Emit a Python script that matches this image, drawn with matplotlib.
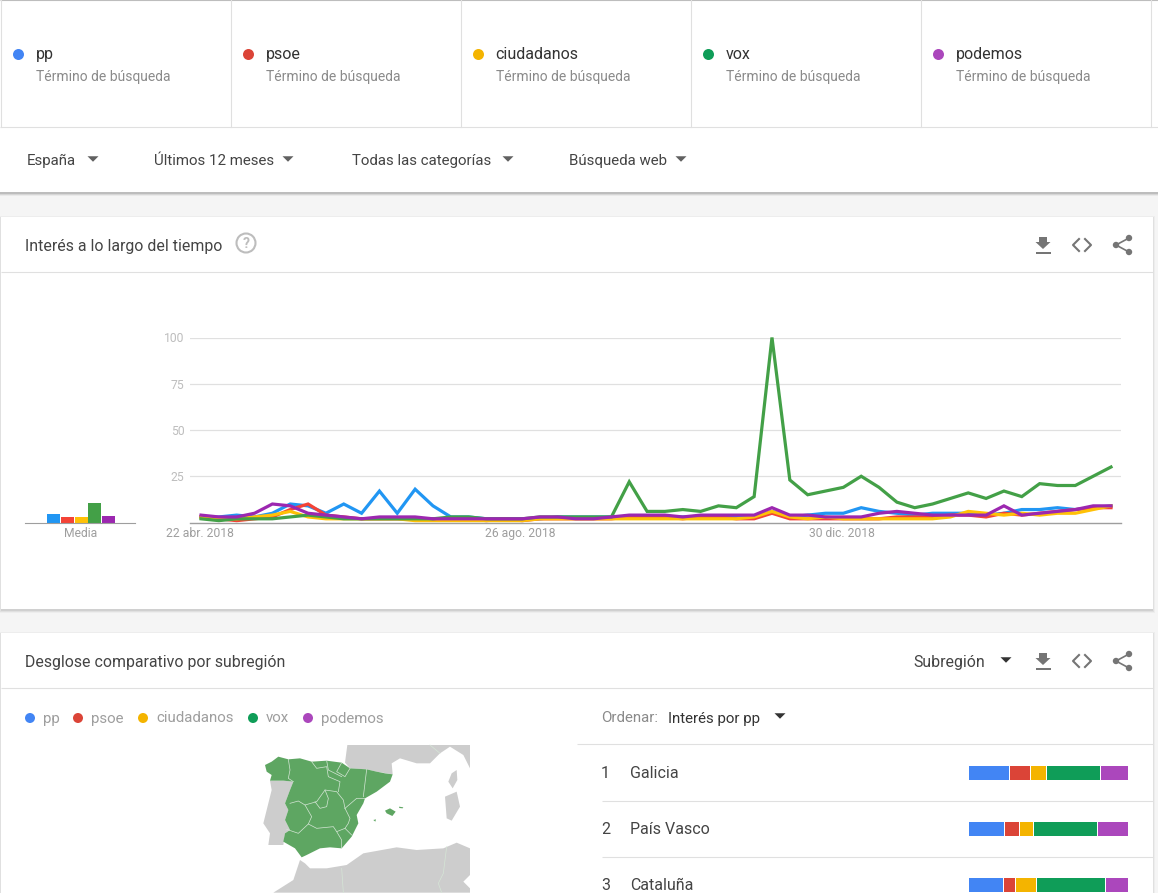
import matplotlib
matplotlib.use('Agg')
import matplotlib.pyplot as plt
from matplotlib.patches import Rectangle, Polygon, Circle
from matplotlib.transforms import ScaledTranslation

plt.rcParams['font.family'] = ['Roboto', 'DejaVu Sans']

W, H = 1158, 893

# data
terms = ['pp', 'psoe', 'ciudadanos', 'vox', 'podemos']
dots = ['#4285f4', '#db4437', '#f4b400', '#0f9d58', '#ab47bc']
lines = ['#2196f3', '#f44336', '#ffc107', '#43a047', '#9c27b0']

pp = [3, 3, 4, 3, 5, 10, 9, 5, 10, 5, 17, 5, 18, 9, 3, 3, 2, 2, 2, 2, 3, 3, 3, 3,
      3, 3, 3, 3, 3, 3, 3, 3, 6, 3, 4, 5, 5, 8, 6, 5, 4, 5, 5, 5, 4, 5, 7, 7, 8, 7, 8, 9]
psoe = [3, 2, 1, 2, 3, 7, 10, 4, 3, 2, 2, 2, 2, 2, 2, 2, 1, 2, 1, 2, 2, 2, 2, 2,
        3, 3, 3, 2, 3, 3, 2, 2, 5, 2, 2, 2, 2, 2, 2, 3, 3, 3, 4, 4, 3, 5, 4, 5, 6, 7, 8, 8]
ciudadanos = [3, 2, 2, 3, 4, 6, 3, 2, 2, 2, 2, 2, 1, 1, 1, 1, 1, 1, 1, 2, 2, 2, 2, 2,
              2, 2, 2, 2, 2, 2, 2, 3, 6, 3, 2, 3, 2, 2, 2, 2, 2, 2, 3, 6, 5, 4, 5, 4, 5, 5, 7, 9]
vox = [2, 1, 2, 2, 2, 3, 4, 3, 2, 2, 2, 2, 2, 2, 3, 3, 2, 2, 2, 3, 3, 3, 3, 3,
       22, 6, 6, 7, 6, 9, 8, 14, 100, 23, 15, 17, 19, 25, 19, 11, 8, 10, 13, 16, 13, 17, 14, 21, 20, 20, 25, 30]
podemos = [4, 3, 3, 5, 10, 9, 5, 4, 3, 2, 3, 3, 3, 2, 2, 2, 2, 2, 2, 3, 3, 2, 2, 3,
           4, 4, 4, 3, 4, 4, 4, 4, 8, 4, 4, 3, 3, 3, 5, 6, 5, 4, 4, 4, 4, 9, 4, 5, 6, 7, 9, 9]
series = [pp, psoe, ciudadanos, vox, podemos]

media = [4.5, 3, 3, 10.4, 3.4]
yticks = [25, 50, 75, 100]
date_ticks = [0, 18, 36]
date_labels = ['22 abr. 2018', '26 ago. 2018', '30 dic. 2018']

region_names = ['Galicia', 'País Vasco', 'Cataluña']
region_vals = [[41, 21, 16, 54, 28],
               [36, 15, 14, 64, 31],
               [35, 12, 21, 69, 23]]


def px_axes(x0, y_top, x1, y_bot, **kw):
    return fig.add_axes([x0 / W, 1 - y_bot / H, (x1 - x0) / W, (y_bot - y_top) / H], **kw)


fig = plt.figure(figsize=(W / 100, H / 100), dpi=100, facecolor='#f5f5f5')

# page furniture, in pixel coordinates
ui = fig.add_axes([0, 0, 1, 1], zorder=0)
ui.set_xlim(0, W)
ui.set_ylim(H, 0)
ui.axis('off')


def box(x, y, w, h, c='white', z=1, **kw):
    ui.add_patch(Rectangle((x, y), w, h, fc=c, ec='none', zorder=z, **kw))


def hline(x0, x1, y, c='#e0e0e0', lw=0.8, z=3):
    ui.plot([x0, x1], [y - 0.8, y - 0.8], color=c, lw=lw, zorder=z, solid_capstyle='butt')


def txt(x, y, s, size=14, c='#444444', ha='left', **kw):
    ui.text(x, y + 1, s, fontsize=size * 0.72, color=c, ha=ha, va='center', zorder=6, **kw)


def tri(x, y, c='#616161', w=5.5, h=5.5):
    ui.add_patch(Polygon([(x - w, y - h / 2), (x + w, y - h / 2), (x, y + h / 2)], fc=c, ec='none', zorder=6))


def card_shadow(x, y, w, h, strength=1.0):
    for i, a in zip((3, 2, 1), (0.03, 0.05, 0.07)):
        box(x - i + 1, y - i + 2, w + 2 * i - 2, h + 2 * i - 1, c='black', z=0.5, alpha=a * strength)


def icons(x_dl, x_code, x_share, y):
    c = '#757575'
    ui.add_patch(Polygon([(x_dl - 4, y - 8), (x_dl + 4, y - 8), (x_dl + 4, y - 3), (x_dl + 7.5, y - 3),
                          (x_dl, y + 4), (x_dl - 7.5, y - 3), (x_dl - 4, y - 3)], fc=c, ec='none', zorder=6))
    ui.add_patch(Rectangle((x_dl - 7.5, y + 6.5), 15, 2, fc=c, ec='none', zorder=6))
    ui.plot([x_code - 3, x_code - 9, x_code - 3], [y - 6, y, y + 6], color=c, lw=1.5, zorder=6)
    ui.plot([x_code + 3, x_code + 9, x_code + 3], [y - 6, y, y + 6], color=c, lw=1.5, zorder=6)
    ui.plot([x_share + 7, x_share - 6, x_share + 7], [y - 7, y, y + 7], color=c, lw=1.2, zorder=6)
    for px, py in [(x_share + 7, y - 7), (x_share - 6, y), (x_share + 7, y + 7)]:
        ui.add_patch(Circle((px, py), 3.2, fc=c, ec='none', zorder=6))


# header
card_shadow(0, -5, W, 197, strength=1.6)
box(0, 0, W, 192)
hline(0, W, 1, c='#bdbdbd')
hline(0, W, 127.5)
cell_x = [1, 231, 461, 691, 921, 1151]
for x in cell_x:
    ui.plot([x - 0.3, x - 0.3], [0, 127], color='#e0e0e0', lw=0.8, zorder=3)
for x, term, dot in zip(cell_x, terms, dots):
    ui.add_patch(Circle((x + 17.5, 54.5), 5.5, fc=dot, ec='none', zorder=6))
    txt(x + 34.5, 53.5, term, size=16, c='#333333')
    txt(x + 35, 75.5, 'Término de búsqueda', size=13.9, c='#8a8a8a')

for x, s, tx, y in [(27, 'España', 93, 159.5), (154, 'Últimos 12 meses', 288, 160),
                    (352, 'Todas las categorías', 508, 159.5), (569, 'Búsqueda web', 681, 159.5)]:
    txt(x, y, s, size=15)
    tri(tx, 159)

# first card
card_shadow(1, 217, 1152, 392)
box(1, 217, 1152, 392)
hline(1, 1153, 272.5)
txt(25, 245, 'Interés a lo largo del tiempo', size=15.9)
ui.add_patch(Circle((246, 243), 9.5, fc='none', ec='#bdbdbd', lw=1.5, zorder=6))
txt(246, 242.5, '?', size=14, c='#bdbdbd', ha='center', fontweight='bold')
icons(1043, 1082, 1122, 245)

# second card
card_shadow(1, 633, 1152, 270)
box(1, 633, 1152, 270)
hline(1, 1153, 688.5)
txt(25, 661, 'Desglose comparativo por subregión', size=15.9)
txt(913, 661, 'Subregión', size=15.9)
tri(1006, 660, c='#333333')
icons(1043, 1082, 1122, 661)

legend_x = [25, 73, 138, 248, 303]
for x, term, dot in zip(legend_x, terms, dots):
    ui.add_patch(Circle((x + 5, 718), 5, fc=dot, ec='none', zorder=6))
    txt(x + 18, 717.5, term, size=15, c='#9e9e9e')

txt(601, 717.5, 'Ordenar:', size=15, c='#8a8a8a')
txt(668, 717.5, 'Interés por pp', size=15, c='#333333')
tri(780, 716, c='#333333')
hline(577, 1153, 744.5)
hline(602, 1153, 801.5)
hline(602, 1153, 857.5)
for i, (y, name) in enumerate(zip([772, 828, 884], region_names)):
    txt(601, y, str(i + 1), size=16)
    txt(630, y, name, size=16)


# map (crop coordinates x3)
def mp(pts):
    return [(230 + x / 3, 740 + y / 3) for x, y in pts]


GREY = '#cdcdcd'
GREEN = '#5ea662'
spain = [(105, 75), (125, 65), (145, 50), (175, 58), (210, 55), (245, 65), (290, 62), (335, 68), (360, 85),
         (410, 88), (440, 95), (465, 100), (488, 103), (480, 125), (440, 155), (405, 175), (400, 190),
         (380, 225), (385, 250), (365, 290), (335, 325), (300, 322), (270, 325), (230, 345), (215, 352),
         (195, 325), (160, 305), (165, 280), (180, 270), (165, 240), (175, 210), (165, 190), (180, 150),
         (190, 125), (160, 122), (120, 122), (125, 105), (110, 95)]
portugal = [(120, 122), (160, 122), (190, 125), (180, 150), (165, 190), (175, 210), (165, 240), (180, 270),
            (165, 280), (160, 315), (115, 315), (120, 280), (100, 250), (115, 190), (125, 150)]
france = [(352, 15), (720, 15), (720, 85), (700, 45), (660, 20), (630, 40), (600, 70), (560, 70), (510, 55),
          (485, 70), (488, 103), (440, 95), (410, 88), (360, 85), (345, 68)]
corsica = [(665, 100), (680, 90), (682, 120), (668, 145), (655, 125)]
sardinia = [(645, 170), (680, 155), (690, 200), (665, 242), (650, 235)]
africa = [(130, 458), (190, 420), (210, 360), (225, 370), (240, 385), (290, 385), (350, 375), (400, 340),
          (500, 322), (560, 330), (640, 325), (680, 308), (720, 325), (720, 405), (700, 425), (720, 445), (720, 458)]
for shape in (portugal, france, corsica, sardinia, africa):
    ui.add_patch(Polygon(mp(shape), fc=GREY, ec='none', zorder=4))
for shape in (spain, [(465, 212), (480, 205), (497, 215), (487, 228), (470, 220)],
              [(507, 200), (520, 202), (518, 205), (508, 204)], [(430, 240), (438, 238), (436, 245)]):
    ui.add_patch(Polygon(mp(shape), fc=GREEN, ec='none', zorder=5))
borders = [[(175, 58), (180, 90), (175, 115), (190, 125)],
           [(180, 190), (205, 183), (225, 195), (260, 185), (285, 150), (320, 155), (340, 180), (345, 205)],
           [(245, 65), (260, 85), (290, 80), (295, 110), (330, 125), (325, 155)],
           [(290, 62), (295, 90), (335, 110)],
           [(335, 68), (320, 95), (345, 110), (360, 85)],
           [(410, 88), (400, 170)],
           [(345, 205), (380, 175), (405, 175)],
           [(225, 195), (245, 230), (235, 252), (205, 280), (170, 268)],
           [(235, 252), (260, 265), (310, 260), (320, 275), (345, 265), (355, 250), (360, 235), (345, 205)],
           [(320, 275), (335, 300), (335, 325)],
           [(345, 265), (365, 285)],
           [(285, 150), (295, 175), (290, 200), (270, 205), (255, 185)],
           [(335, 385), (340, 458)],
           [(650, 320), (640, 400), (625, 430), (635, 458)],
           [(600, 15), (630, 40)]]
for b in borders:
    xs, ys = zip(*mp(b))
    ui.plot(xs, ys, color='#d5e6d6', lw=0.5, zorder=5.5)

# main line chart: x is the week number, y the interest
week_px = 910 / 51
ax = px_axes(190, 337.5, 1121, 522.5, zorder=2)
ax.patch.set_alpha(0)
ax.set_xlim((190 - 201) / week_px, (1121 - 201) / week_px)
ax.set_ylim(0, 100)
for s in ('top', 'left', 'right'):
    ax.spines[s].set_visible(False)
ax.spines['bottom'].set_color('#9e9e9e')
ax.spines['bottom'].set_linewidth(1)
ax.set_yticks(yticks)
ax.set_yticklabels([str(t) for t in yticks], fontsize=8.7, color='#bdbdbd')
ax.set_xticks(date_ticks)
ax.set_xticklabels(date_labels, fontsize=8.7, color='#9e9e9e')
ax.tick_params(length=0)
ax.tick_params(axis='x', pad=3.5)
ax.tick_params(axis='y', pad=4)
# date labels sit slightly left of their week
for lab in ax.get_xticklabels():
    lab.set_transform(lab.get_transform() + ScaledTranslation(-1.5 / 100, 0, fig.dpi_scale_trans))
ax.grid(axis='y', color='#e0e0e0', lw=0.9)
ax.set_axisbelow(True)
weeks = list(range(len(pp)))
for vals, c in zip(series, lines):
    ax.plot(weeks, vals, color=c, lw=2.3, clip_on=False, solid_joinstyle='miter')

# media bars, same vertical scale
ax_m = px_axes(25, 337.5, 135, 522.5, zorder=2)
ax_m.patch.set_alpha(0)
ax_m.set_xlim((25 - 53.5) / 13.8, (135 - 53.5) / 13.8)
ax_m.set_ylim(0, 100)
ax_m.bar(range(5), media, width=0.93, color=lines)
for s in ('top', 'left', 'right'):
    ax_m.spines[s].set_visible(False)
ax_m.spines['bottom'].set_color('#9e9e9e')
ax_m.set_yticks([])
ax_m.set_xticks([2])
ax_m.set_xticklabels(['Media'], fontsize=8.7, color='#9e9e9e')
ax_m.tick_params(length=0, pad=3.5)

# stacked bars per region
ax_r = px_axes(969, 744, 1129, 893, zorder=2)
ax_r.axis('off')
ax_r.set_xlim(0, 160)
ax_r.set_ylim(149, 0)
for y, vals in zip([29, 85, 141], region_vals):
    left = 0
    for v, c in zip(vals, dots):
        ax_r.barh(y, v - 1, left=left, height=14, color=c, clip_on=False)
        left += v

fig.savefig('out.png', dpi=100, facecolor=fig.get_facecolor())
